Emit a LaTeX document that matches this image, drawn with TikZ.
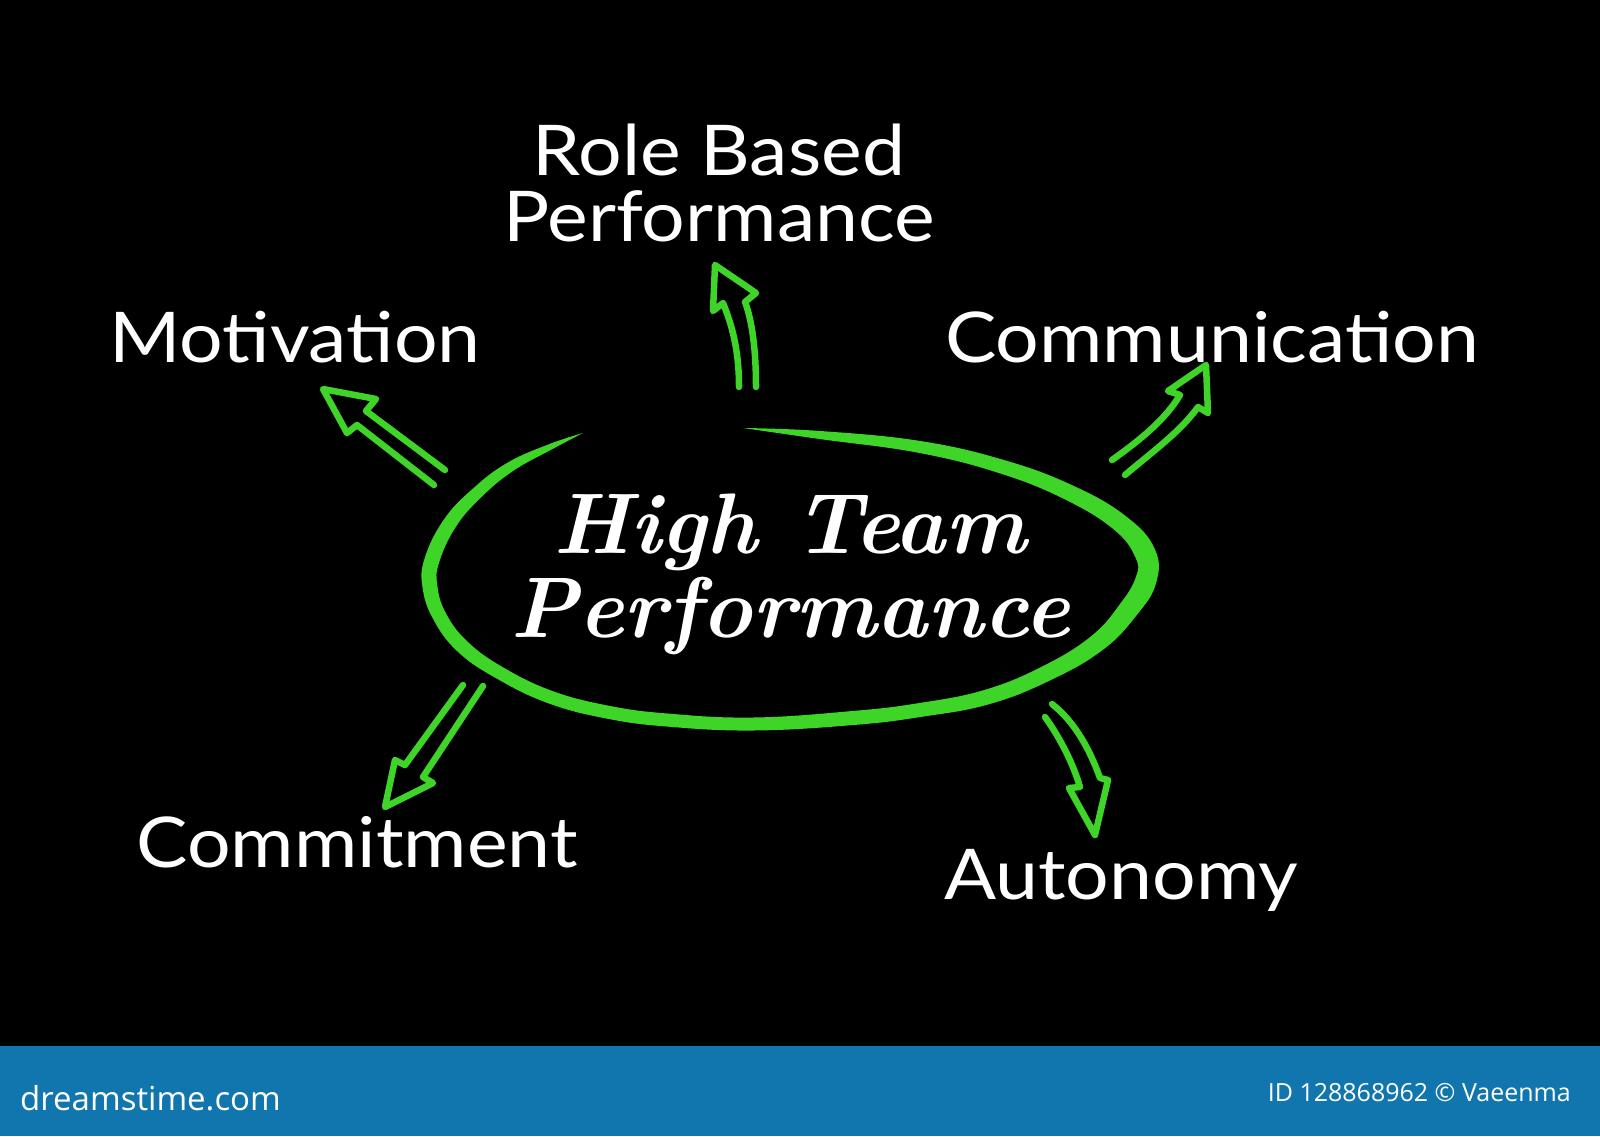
\documentclass[tikz,border=0pt]{standalone}
\usepackage{fontspec}
\newfontfamily\labelfont{Lato}
\newfontfamily\barfont{Open Sans}
\definecolor{hgreen}{RGB}{62,212,40}
\definecolor{barblue}{RGB}{17,118,174}
\newcommand{\wide}[1]{\scalebox{1.1}[1]{#1}}
\tikzset{
  lbl/.style={text=white, inner sep=0pt, anchor=center, align=center,
    font=\labelfont\fontsize{70}{66}\selectfont},
  centertext/.style={text=white, inner sep=0pt, anchor=center, align=center,
    font=\bfseries\itshape\fontsize{86}{84}\selectfont},
  harrow/.style={draw=hgreen, line width=6.5pt, line cap=round, line join=round},
  bartext/.style={text=white, inner sep=0pt, font=\barfont\fontsize{25}{28}\selectfont}
}
\begin{document}
\begin{tikzpicture}[x=1pt,y=-1pt]
\useasboundingbox (0,0) rectangle (1600,1136);
\fill[black] (0,0) rectangle (1600,1046);
\fill[barblue] (0,1046) rectangle (1600,1136);

% central hand-drawn ellipse (tapered stroke)
\fill[hgreen] plot[smooth, tension=0.7] coordinates {
 (583,433) (548.7,444.3) (507.3,462.8) (472.9,488.6) (444.2,519.1) (424.8,557.8)
 (422.6,588) (433.9,620.4) (458.2,652.1) (496.8,678.6) (547.8,703.1) (605.7,718.4)
 (666.5,726.5) (753.1,730.5) (853.6,725) (921.1,716.9) (989.1,704.2) (1050.5,680.2)
 (1102.5,650.1) (1135.9,616.1) (1156.1,583) (1154.6,548.6) (1125.6,516) (1073.5,485.8)
 (1005,460.3) (921,441.1) (820.4,431) (743,428)}
 -- plot[smooth, tension=0.7] coordinates {
 (743,428) (819.6,439) (919,452.9) (1001,473.7) (1066.5,500.2) (1114.4,530)
 (1135.4,557.4) (1135.9,577) (1120.1,603.9) (1091.5,635.9) (1043.5,665.8) (984.9,689.8)
 (918.9,703.1) (852.4,711) (752.9,717.5) (667.5,713.5) (608.3,705.6) (552.2,690.9)
 (503.2,667.4) (467.8,641.9) (446.1,613.6) (437.4,586) (439.2,562.2) (455.8,526.9)
 (481.1,497.4) (512.7,471.2) (551.3,449.7) (583,433)}
 -- cycle;

% texts
\node[centertext] (htp) at (790,574) {High Team\\Performance};
\node[lbl] (rbp) at (719,183) {\wide{Role Based}\\\wide{Performance}};
\node[lbl] (mot) at (295,337) {\wide{Motivation}};
\node[lbl] (com) at (1212,337) {\wide{Communication}};
\node[lbl] (cmt) at (357,842) {\wide{Commitment}};
\node[lbl] (aut) at (1121,880) {\wide{Autonomy}};

% hollow arrows
\draw[harrow] (445,470) -- (366,411) -- (376,399) -- (323,389) -- (347,433) -- (357,425) -- (434,485);
\draw[harrow] (756,387) .. controls (756,350) and (752,320) .. (745,302) -- (756,293) -- (715,265)
  -- (713,311) -- (723,303) .. controls (732,325) and (739,350) .. (739,387);
\draw[harrow] (1112,460) .. controls (1140,440) and (1165,420) .. (1180,395) -- (1168,391) -- (1206,365)
  -- (1208,413) -- (1198,407) .. controls (1180,432) and (1152,452) .. (1125,475);
\draw[harrow] (463,685) -- (405,765) -- (395,760) -- (385,807) -- (433,783) -- (423,777) -- (483,686);
\draw[harrow] (1045,717) .. controls (1058,735) and (1072,760) .. (1080,787) -- (1069,788) -- (1095,835)
  -- (1108,780) -- (1100,778) .. controls (1090,750) and (1075,722) .. (1052,704);

% bottom bar
\node[bartext, anchor=west, font=\barfont\fontsize{33}{38}\selectfont] (brand) at (20,1098) {dreamstime.com};
\node[bartext, anchor=east] (imgid) at (1571,1093) {ID 128868962 © Vaeenma};
\end{tikzpicture}
\end{document}
